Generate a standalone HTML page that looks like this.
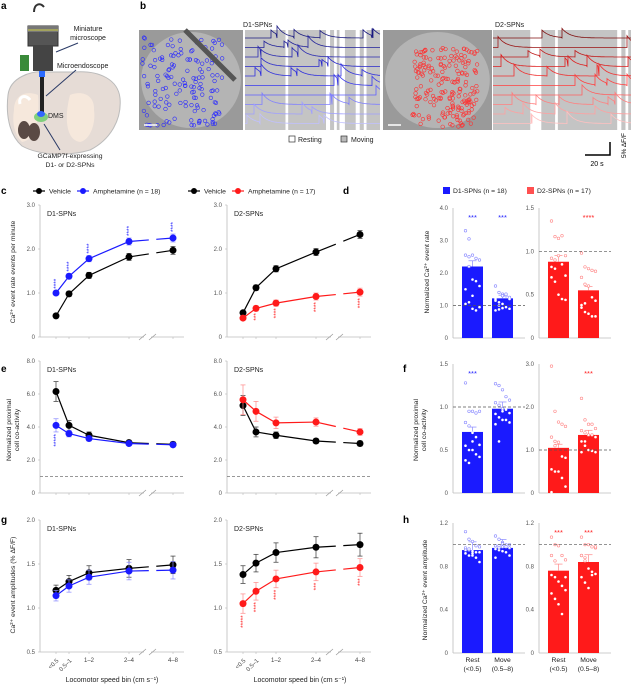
<!DOCTYPE html>
<html><head><meta charset="utf-8">
<style>
html,body{margin:0;padding:0;background:#fff;}
svg{display:block;font-family:"Liberation Sans",sans-serif;}
text{font-family:"Liberation Sans",sans-serif;}
</style></head>
<body>
<svg id="fig" width="631" height="685" viewBox="0 0 631 685" xmlns="http://www.w3.org/2000/svg">
<g>
<text x="1" y="9" font-size="10" font-weight="bold">a</text>
<path d="M44 7 C40 2 34 4 34 12" stroke="#333" stroke-width="2" fill="none"/>
<path d="M8 95 C10 78 30 70 48 72 C58 72 66 72 74 72 C100 70 118 80 120 98 C122 120 110 140 90 150 C70 156 40 156 22 146 C8 134 6 112 8 95 Z" fill="#e6dcd6" stroke="#bbb"/>
<path d="M14 110 C14 95 26 90 38 95 C40 118 36 140 22 142 C14 134 12 122 14 110Z" fill="#f6e8dc"/>
<path d="M70 95 C82 90 95 95 94 110 C96 124 90 140 80 142 C66 140 64 118 70 95Z" fill="#f6e8dc"/>
<ellipse cx="24" cy="130" rx="6" ry="9" fill="#5a4a44"/>
<ellipse cx="34" cy="132" rx="6" ry="9" fill="#5a4a44"/>
<path d="M20 104 C18 96 26 94 30 100" stroke="#fff" stroke-width="3" fill="none"/>
<rect x="28" y="26" width="30" height="20" fill="#555" stroke="#333"/>
<rect x="28" y="26" width="30" height="6" fill="#777"/>
<line x1="28" y1="30" x2="58" y2="30" stroke="#cc4" stroke-width="1"/>
<rect x="33" y="46" width="20" height="25" fill="#444"/>
<rect x="20" y="55" width="9" height="16" fill="#3a8a3a"/>
<rect x="39" y="71" width="6" height="6" fill="#2a6aff"/>
<rect x="40" y="77" width="4" height="37" fill="#222"/>
<ellipse cx="41" cy="117" rx="7" ry="5" fill="#6c6" opacity="0.8"/>
<ellipse cx="41" cy="114" rx="4" ry="3" fill="#36f"/>
<line x1="78" y1="43" x2="56" y2="52" stroke="#2a3a66" stroke-width="1"/>
<line x1="76" y1="70" x2="46" y2="96" stroke="#2a3a66" stroke-width="1"/>
<line x1="60" y1="150" x2="44" y2="124" stroke="#2a3a66" stroke-width="1"/>
<text x="88" y="31" font-size="7" text-anchor="middle" fill="#222">Miniature</text>
<text x="88" y="40" font-size="7" text-anchor="middle" fill="#222">microscope</text>
<text x="57" y="68" font-size="7" fill="#222">Microendoscope</text>
<text x="48" y="118" font-size="7" fill="#222">DMS</text>
<text x="70" y="158" font-size="6.8" text-anchor="middle" fill="#222">GCaMP7f-expressing</text>
<text x="70" y="167" font-size="6.8" text-anchor="middle" fill="#222">D1- or D2-SPNs</text>
</g>
<g id="panelB">
<text x="140" y="9" font-size="10" font-weight="bold">b</text>
<text x="243" y="27" font-size="7" fill="#222">D1-SPNs</text>
<text x="495" y="27" font-size="7" fill="#222">D2-SPNs</text>
<rect x="289" y="136" width="6" height="6" fill="#fff" stroke="#333" stroke-width="0.7"/>
<text x="298" y="142" font-size="7" fill="#222">Resting</text>
<rect x="341" y="136" width="6" height="6" fill="#bbb" stroke="#333" stroke-width="0.7"/>
<text x="351" y="142" font-size="7" fill="#222">Moving</text>
<path d="M585 155 H610 V142" stroke="#000" stroke-width="1.5" fill="none"/>
<text x="597" y="166" font-size="7" text-anchor="middle">20 s</text>
<text x="0" y="0" font-size="6.5" transform="translate(626,158) rotate(-90)">5% ΔF/F</text>
</g>
<g id="charts"></g>
</svg>
<script>
// ---------- data ----------
const speedBins = ['<0.5','0.5–1','1–2','2–4','4–8'];
const c1Vehicle = [0.48,0.98,1.40,1.82,1.97];
const c1Amph = [1.00,1.38,1.78,2.17,2.25];
const c2Vehicle = [0.55,1.12,1.55,1.93,2.33];
const c2Amph = [0.43,0.65,0.77,0.92,1.02];
const cErr = [0.05,0.06,0.07,0.08,0.09];
const e1Vehicle = [6.15,4.1,3.5,3.05,2.95];
const e1Amph = [4.1,3.6,3.3,3.0,2.92];
const e2Vehicle = [5.3,3.7,3.5,3.15,3.0];
const e2Amph = [5.65,4.95,4.25,4.3,3.7];
const eErr = [0.6,0.3,0.2,0.15,0.15];
const g1Vehicle = [1.2,1.3,1.4,1.45,1.49];
const g1Amph = [1.14,1.25,1.35,1.42,1.43];
const g2Vehicle = [1.38,1.51,1.63,1.69,1.72];
const g2Amph = [1.05,1.19,1.33,1.41,1.46];
const gErr = [0.06,0.07,0.08,0.1,0.1];
const barCats = ['Rest','Move'];
const dD1 = [2.2,1.22]; const dD2 = [0.88,0.55];
const fD1 = [0.71,0.98]; const fD2 = [1.05,1.35];
const hD1 = [0.95,0.97]; const hD2 = [0.76,0.84];
const dD1Dots = [[2.55,2.5,2.55,2.45,2.4,3.3,3.05,1.8,1.75,1.6,1.05,1.1,0.9,0.85,0.95,1.5,2.2,1.3],[1.6,1.4,1.35,1.3,1.25,1.2,1.1,1.05,0.95,0.9,0.85,0.88,1.3,1.35,1.2,1.15,1.0,0.92]];
const dD2Dots = [[1.35,1.17,1.15,1.18,0.95,0.92,0.9,0.95,0.85,0.72,0.7,0.65,0.5,0.45,0.44,0.82,0.8],[0.98,0.82,0.8,0.78,0.77,0.7,0.62,0.6,0.47,0.43,0.38,0.3,0.28,0.25,0.25,0.35,0.4]];
const fD1Dots = [[1.28,0.95,0.95,0.93,0.95,0.82,0.78,0.7,0.65,0.56,0.55,0.5,0.5,0.45,0.42,0.38,0.35,0.6],[1.27,1.25,1.2,1.12,1.08,1.05,1.02,0.98,0.97,0.93,0.92,0.88,0.85,0.85,0.82,0.8,0.6,0.95]];
const fD2Dots = [[2.95,1.9,1.65,1.6,1.55,1.3,1.2,1.18,0.85,0.82,0.55,0.5,0.5,0.35,0.15,0.02,1.1],[2.2,1.7,1.6,1.6,1.5,1.45,1.4,1.35,1.35,1.3,1.2,1.1,1.0,0.98,0.95,0.95,1.2]];
const hD1Dots = [[1.12,1.05,1.03,0.99,0.98,0.97,0.95,0.94,0.93,0.93,0.92,0.9,0.9,0.88,0.84,0.95,0.96,0.92],[1.08,1.05,1.02,1.0,1.0,0.99,0.99,0.98,0.98,0.97,0.96,0.95,0.94,0.93,0.9,0.88,0.97,1.01]];
const hD2Dots = [[1.07,1.0,0.99,0.9,0.86,0.72,0.7,0.66,0.62,0.58,0.55,0.5,0.45,0.36,0.7,0.9,0.85],[1.07,1.0,1.0,0.98,0.97,0.9,0.88,0.78,0.75,0.73,0.7,0.65,0.6,0.72,0.98,0.9,0.85]];

const NS='http://www.w3.org/2000/svg';
const root=document.getElementById('charts');
function mk(tag,attrs,parent,txt){const e=document.createElementNS(NS,tag);for(const k in attrs)e.setAttribute(k,attrs[k]);if(txt!==undefined)e.textContent=txt;(parent||root).appendChild(e);return e;}

const binOff=[16,29,49,89,133];
function linePanel(ax,yPix0,yPixTop,vMin,vMax,ticks,tickFmt,series,title,showX,dashed){
  const g=mk('g',{});
  
  
  const ys=v=>yPix0-(v-vMin)/(vMax-vMin)*(yPix0-yPixTop);
  const xs=i=>ax+binOff[i];
  mk('line',{x1:ax,y1:yPixTop,x2:ax,y2:yPix0,stroke:'#bbb','stroke-width':0.8},g);
  mk('line',{x1:ax,y1:yPix0,x2:ax+104,y2:yPix0,stroke:'#bbb','stroke-width':0.8},g);
  mk('line',{x1:ax+111,y1:yPix0,x2:ax+144,y2:yPix0,stroke:'#bbb','stroke-width':0.8},g);
  mk('line',{x1:ax+99,y1:yPix0+3,x2:ax+106,y2:yPix0-3,stroke:'#999','stroke-width':0.7},g);
  mk('line',{x1:ax+109,y1:yPix0+3,x2:ax+116,y2:yPix0-3,stroke:'#999','stroke-width':0.7},g);
  ticks.forEach(t=>{const y=ys(t);mk('text',{x:ax-5,y:y+2,'font-size':6,'text-anchor':'end',fill:'#555'},g,tickFmt(t));mk('line',{x1:ax-2,y1:y,x2:ax,y2:y,stroke:'#bbb','stroke-width':0.6},g);});
  speedBins.forEach((b,i)=>{mk('line',{x1:xs(i),y1:yPix0,x2:xs(i),y2:yPix0+2,stroke:'#bbb','stroke-width':0.6},g);
    if(showX){const t=mk('text',{'font-size':6,'text-anchor':i<2?'end':'middle',fill:'#444',transform:i<2?`translate(${xs(i)+3},${yPix0+9}) rotate(-45)`:`translate(${xs(i)},${yPix0+10})`},g,b);
      }});
  if(dashed!==undefined)mk('line',{x1:ax,y1:ys(dashed),x2:ax+144,y2:ys(dashed),stroke:'#777','stroke-width':0.7,'stroke-dasharray':'3,2'},g);
  const tt=mk('text',{x:ax+7,y:yPixTop+11,'font-size':7,fill:'#222'},g,title);
  
  series.forEach(s=>{
    const sg=mk('g',{},g);
    
    
    for(let i=0;i<4;i++){let x1=xs(i),y1=ys(s.v[i]),x2=xs(i+1),y2=ys(s.v[i+1]);
      if(i===3){const f=0.45,f2=0.62;mk('line',{x1,y1,x2:x1+(x2-x1)*f,y2:y1+(y2-y1)*f,stroke:s.c,'stroke-width':1.2},sg);mk('line',{x1:x1+(x2-x1)*f2,y1:y1+(y2-y1)*f2,x2,y2,stroke:s.c,'stroke-width':1.2},sg);}
      else mk('line',{x1,y1,x2,y2,stroke:s.c,'stroke-width':1.2},sg);}
    s.v.forEach((v,i)=>{const x=xs(i),y=ys(v),e=(yPix0-yPixTop)*s.e[i]/(vMax-vMin);
      mk('line',{x1:x,y1:y-e,x2:x,y2:y+e,stroke:s.ec,'stroke-width':0.7},sg);
      mk('line',{x1:x-2.5,y1:y-e,x2:x+2.5,y2:y-e,stroke:s.ec,'stroke-width':0.7},sg);
      mk('line',{x1:x-2.5,y1:y+e,x2:x+2.5,y2:y+e,stroke:s.ec,'stroke-width':0.7},sg);
      const p=mk('circle',{cx:x,cy:y,r:3.5,fill:s.c},sg);
      
      
      if(s.stars&&s.stars[i]){const st=s.stars[i];const yy=s.up?y-e-2:y+e+2;
        mk('text',{'font-size':6.5,fill:s.c,transform:`translate(${x+2},${yy}) rotate(-90)`,'text-anchor':s.up?'start':'end'},sg,st);}
    });
  });
}
const blue='#1a1aff',red='#ff1a1a';
const lightBlue='#8888ff',lightRed='#ff8888';
const f1=t=>t===0?'0':t.toFixed(1);
linePanel(40,337,205,0,3,[0,1,2,3],f1,[{name:'vehicle',v:c1Vehicle,e:cErr,c:'#000',ec:'#333'},{name:'amphetamine',v:c1Amph,e:cErr,c:blue,ec:lightBlue,stars:['****','****','****','****','****'],up:true}],'D1-SPNs',false);
linePanel(227,337,205,0,3,[0,1,2,3],f1,[{name:'vehicle',v:c2Vehicle,e:cErr,c:'#000',ec:'#333'},{name:'amphetamine',v:c2Amph,e:cErr,c:red,ec:lightRed,stars:[null,'***','****','****','****'],up:false}],'D2-SPNs',false);
linePanel(40,493,361,0,8,[0,2,4,6,8],f1,[{name:'vehicle',v:e1Vehicle,e:eErr,c:'#000',ec:'#333'},{name:'amphetamine',v:e1Amph,e:[0.4,0.2,0.15,0.1,0.1],c:blue,ec:lightBlue,stars:['*****',null,null,null,null]}],'D1-SPNs',false,1);
linePanel(227,493,361,0,8,[0,2,4,6,8],f1,[{name:'vehicle',v:e2Vehicle,e:eErr,c:'#000',ec:'#333'},{name:'amphetamine',v:e2Amph,e:[0.9,0.6,0.35,0.25,0.2],c:red,ec:lightRed}],'D2-SPNs',false,1);
linePanel(40,652,520,0.5,2,[0.5,1,1.5,2],f1,[{name:'vehicle',v:g1Vehicle,e:gErr,c:'#000',ec:'#333'},{name:'amphetamine',v:g1Amph,e:gErr,c:blue,ec:lightBlue}],'D1-SPNs',true);
linePanel(227,652,520,0.5,2,[0.5,1,1.5,2],f1,[{name:'vehicle',v:g2Vehicle,e:[0.1,0.1,0.11,0.12,0.13],c:'#000',ec:'#333'},{name:'amphetamine',v:g2Amph,e:[0.11,0.1,0.1,0.1,0.1],c:red,ec:lightRed,stars:['*****','****','****','***','***'],up:false}],'D2-SPNs',true);

function legend(x,y,color,label){const g=mk('g',{});
  
  mk('line',{x1:x,y1:y,x2:x+12,y2:y,stroke:color,'stroke-width':1.2},g);mk('circle',{cx:x+6,cy:y,r:3,fill:color},g);
  mk('text',{x:x+16,y:y+2.4,'font-size':6.8,fill:'#222'},g,label);}
mk('text',{x:1,y:194,'font-size':10,'font-weight':'bold'},root,'c');
legend(33,191,'#000','Vehicle');legend(77,191,blue,'Amphetamine (n = 18)');
legend(188,191,'#000','Vehicle');legend(232,191,red,'Amphetamine (n = 17)');
mk('text',{x:1,y:372,'font-size':10,'font-weight':'bold'},root,'e');
mk('text',{x:1,y:523,'font-size':10,'font-weight':'bold'},root,'g');
mk('text',{x:343,y:194,'font-size':10,'font-weight':'bold'},root,'d');
mk('text',{x:403,y:372,'font-size':10,'font-weight':'bold'},root,'f');
mk('text',{x:403,y:523,'font-size':10,'font-weight':'bold'},root,'h');
mk('text',{x:112,y:682,'font-size':7,'text-anchor':'middle',fill:'#222'},root,'Locomotor speed bin (cm s⁻¹)');
mk('text',{x:300,y:682,'font-size':7,'text-anchor':'middle',fill:'#222'},root,'Locomotor speed bin (cm s⁻¹)');
function ylab(x,y,lines){lines.forEach((l,i)=>mk('text',{'font-size':6.8,'text-anchor':'middle',fill:'#222',transform:`translate(${x+i*8},${y}) rotate(-90)`},root,l));}
ylab(15,272,['Ca²⁺ event rate events per minute']);
ylab(11,430,['Normalized proximal','cell co-activity']);
ylab(15,585,['Ca²⁺ event amplitudes (% ΔF/F)']);
ylab(429,272,['Normalized Ca²⁺ event rate']);
ylab(418,430,['Normalized proximal','cell co-activity']);
ylab(427,590,['Normalized Ca²⁺ event amplitude']);
mk('rect',{x:443,y:187,width:7,height:7,fill:blue},root);
mk('text',{x:453,y:193,'font-size':6.8,fill:'#222'},root,'D1-SPNs (n = 18)');
mk('rect',{x:527,y:187,width:7,height:7,fill:'#ff5050'},root);
mk('text',{x:537,y:193,'font-size':6.8,fill:'#222'},root,'D2-SPNs (n = 17)');

function barPanel(ax,yPix0,yPixTop,vMax,ticks,vals,dots,color,dotColor,stars,showX,name){
  const g=mk('g',{});
  
  const ys=v=>yPix0-v/vMax*(yPix0-yPixTop);
  mk('line',{x1:ax,y1:yPixTop,x2:ax,y2:yPix0,stroke:'#bbb','stroke-width':0.8},g);
  mk('line',{x1:ax,y1:yPix0,x2:ax+72,y2:yPix0,stroke:'#bbb','stroke-width':0.8},g);
  ticks.forEach(t=>{mk('text',{x:ax-5,y:ys(t)+2,'font-size':6,'text-anchor':'end',fill:'#555'},g,t===0?'0':t.toFixed(1));});
  const bx=[ax+9,ax+39],bw=21;
  vals.forEach((v,i)=>{
    const r=mk('rect',{x:bx[i],y:ys(v),width:bw,height:yPix0-ys(v),fill:color},g);
    
    const cx=bx[i]+bw/2;
    mk('line',{x1:cx,y1:ys(v),x2:cx,y2:ys(v*1.08),stroke:dotColor,'stroke-width':0.7},g);
    mk('line',{x1:cx-4,y1:ys(v*1.08),x2:cx+4,y2:ys(v*1.08),stroke:dotColor,'stroke-width':0.7},g);
    dots[i].forEach((d,j)=>{const dx=cx+((j%5)-2)*3.5;const inside=d<v;
      mk('circle',{cx:dx,cy:ys(d),r:1.3,fill:'#fff',stroke:inside?'none':dotColor,'stroke-width':0.6},g);});
    if(stars[i])mk('text',{x:cx,y:yPixTop+12,'font-size':7.5,'text-anchor':'middle',fill:color},g,stars[i]);
    if(showX){mk('text',{x:cx,y:yPix0+9,'font-size':6.8,'text-anchor':'middle',fill:'#222'},g,i?'Move':'Rest');
      mk('text',{x:cx,y:yPix0+18,'font-size':6.8,'text-anchor':'middle',fill:'#222'},g,i?'(0.5–8)':'(<0.5)');}
  });
  mk('line',{x1:ax,y1:ys(1),x2:ax+72,y2:ys(1),stroke:'#555','stroke-width':0.7,'stroke-dasharray':'3,2'},g);
}
barPanel(453,338,208,4,[0,1,2,3,4],dD1,dD1Dots,blue,lightBlue,['***','***'],false,'bar-chart-d-d1');
barPanel(539,338,208,1.5,[0,0.5,1,1.5],dD2,dD2Dots,red,lightRed,[null,'****'],false,'bar-chart-d-d2');
barPanel(453,493,364,1.5,[0,0.5,1,1.5],fD1,fD1Dots,blue,lightBlue,['***',null],false,'bar-chart-f-d1');
barPanel(539,493,364,3,[0,1,2,3],fD2,fD2Dots,red,lightRed,[null,'***'],false,'bar-chart-f-d2');
barPanel(453,653,523,1.2,[0,0.4,0.8,1.2],hD1,hD1Dots,blue,lightBlue,[null,null],true,'bar-chart-h-d1');
barPanel(539,653,523,1.2,[0,0.4,0.8,1.2],hD2,hD2Dots,red,lightRed,['***','***'],true,'bar-chart-h-d2');

const pb=document.getElementById('panelB');
let seed=7;function rnd(){seed=(seed*16807)%2147483647;return seed/2147483647;}
function image(x,w,col,cx0,cy0,spread,n){
  mk('rect',{x,y:30,width:w,height:100,fill:'#9a9a9a'},pb);
  mk('ellipse',{cx:x+w/2,cy:80,rx:w*0.48,ry:48,fill:'#b4b4b4'},pb);
  for(let i=0;i<n;i++){const cx=cx0+(rnd()-0.5)*spread[0],cy=cy0+(rnd()-0.5)*spread[1];
    if(cx<x+3||cx>x+w-3||cy<33||cy>127)continue;mk('circle',{cx,cy,r:1.8,fill:'none',stroke:col,'stroke-width':0.6},pb);}
  mk('line',{x1:x+5,y1:125,x2:x+18,y2:125,stroke:'#fff','stroke-width':1.5},pb);
}
image(139,104,'#2a2aff',180,85,[85,95],160);
mk('line',{x1:185,y1:30,x2:235,y2:80,stroke:'#555','stroke-width':5},pb);
image(383,109,'#ff3030',445,88,[65,80],200);
function traces(x,w,colors,rest){
  mk('rect',{x,y:30,width:w,height:100,fill:'#c4c4c4'},pb);
  rest.forEach(r=>mk('rect',{x:x+r[0]*w,y:30,width:r[1]*w,height:100,fill:'#fff'},pb));
  colors.forEach((c,k)=>{const base=38+k*9.5;let d=`M${x} ${base}`;let level=0;
    for(let px=0;px<=w;px+=1){if(rnd()<0.022){level=7+rnd()*7;d+=` L${x+px} ${base}`;}level*=0.88;d+=` L${x+px} ${(base-level).toFixed(1)}`;}
    mk('path',{d,stroke:c,'stroke-width':0.8,fill:'none'},pb);});
}
traces(245,135,['#1a1a80','#22229a','#2a2ab0','#2a2acc','#3030dd','#3a3aee','#6060ff','#8080ff','#a0a0ff','#c0c0ff'],[[0.6,0.03],[0.66,0.02],[0.7,0.04],[0.82,0.03],[0.88,0.02],[0.3,0.02]]);
traces(493,138,['#801010','#9a1515','#c01818','#dd2020','#f03030','#ff4040','#ff6060','#ff8080','#ffa0a0','#ffc0c0'],[[0.27,0.08],[0.45,0.02],[0.9,0.03],[0.96,0.02]]);
</script>
</body></html>
